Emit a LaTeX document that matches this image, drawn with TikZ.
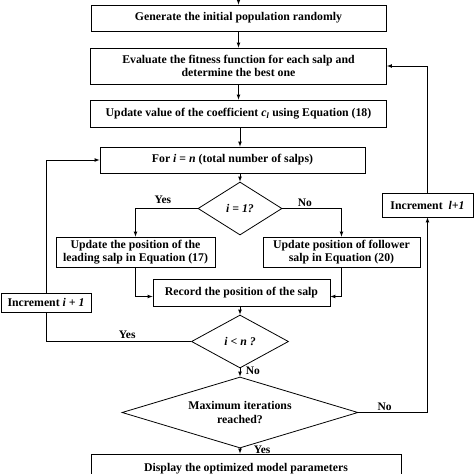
\documentclass[tikz,border=0pt]{standalone}
\usepackage{fontspec}
\setmainfont{Liberation Serif}
\usetikzlibrary{shapes.geometric}
\usetikzlibrary{arrows}
\tikzset{my_flow/.style={->,>=latex,line width=0.7pt,x=1pt,y=-1pt}}
\tikzset{my_box/.style={rectangle, draw, line width=0.8pt, align=center, inner sep=1pt, font=\fontsize{11.8}{13.5}\selectfont\bfseries}}
\tikzset{my_decision/.style={diamond, draw, line width=0.8pt, align=center, inner sep=0pt, font=\fontsize{11.8}{13.5}\selectfont\bfseries}}
\tikzset{my_label/.style={font=\fontsize{11.5}{13}\selectfont\bfseries, inner sep=1.5pt}}

\begin{document}
\begin{tikzpicture}[my_flow]
    \useasboundingbox (0,0) rectangle (474,474);
    %\draw[help lines,step=50] (0,0) grid (474,474);
    \coordinate (start) at (238.5,-2);
    \node[my_box, minimum width=295pt, minimum height=26pt] (init) at (238.5,18) {Generate the initial population randomly};
    \node[my_box, minimum width=296pt, minimum height=36pt] (fitness) at (238.5,66) {Evaluate the fitness function for each salp and\\determine the best one};
    \node[my_box, minimum width=296pt, minimum height=27pt] (coeff) at (238.5,113.5) {Update value of the coefficient \textit{c\textsubscript{l}} using Equation (18)};
    \node[my_box, minimum width=265pt, minimum height=26pt] (loop) at (232.5,160) {For \textit{i} = \textit{n} (total number of salps)};
    \node[my_decision, shape aspect=1.6, minimum width=84pt, minimum height=53pt] (first) at (240,208.5) {\textit{i = 1?}};
    \node[my_box, minimum width=159pt, minimum height=30pt] (leader) at (135.5,252) {Update the position of the\\leading salp in Equation (17)};
    \node[my_box, minimum width=157pt, minimum height=30pt] (follower) at (341.5,252) {Update position of follower\\salp in Equation (20)};
    \node[my_box, minimum width=177pt, minimum height=27pt] (record) at (241.5,292.5) {Record the position of the salp};
    \node[my_box, minimum width=90pt, minimum height=19pt] (inc_i) at (46,302.5) {Increment \textit{i + 1}};
    \node[my_decision, shape aspect=1.8, minimum width=97pt, minimum height=53pt] (last) at (240,341.5) {\textit{i {\textless} n ?}};
    \node[my_decision, shape aspect=3.3, minimum width=236pt, minimum height=71pt] (maxit) at (240,412.5) {Maximum iterations\\reached?};
    \node[my_box, minimum width=91pt, minimum height=24pt] (inc_l) at (427.5,205) {Increment \ \textit{l+1}};
    \node[my_box, minimum width=310pt, minimum height=30pt] (result) at (246,469) {Display the optimized model parameters};

    \draw (start) -- (init);
    \draw (init) -- (fitness);
    \draw (fitness) -- (coeff);
    \draw (coeff.south -| first.north) -- (loop.north -| first.north);
    \draw (loop.south -| first.north) -- (first.north);
    \draw (first.west) -| node[my_label, above, pos=0.28, yshift=3pt] {Yes} (leader.north);
    \draw (first.east) -| node[my_label, above, pos=0.19] {No} (follower.north);
    \draw (leader.south) |- ([yshift=-4pt]record.west);
    \draw (follower.south) |- ([yshift=-4pt]record.east);
    \draw (record.south -| last.north) -- (last.north);
    \draw[-] (last.west) -| node[my_label, above, pos=0.22, yshift=1pt] {Yes} (inc_i.south);
    \draw (inc_i.north) |- (loop.west);
    \draw (last.south) -- node[my_label, right, pos=0.3, xshift=4pt] {No} (maxit.north);
    \draw (maxit.east) -| node[my_label, above, pos=0.19] {No} (inc_l.south);
    \draw (inc_l.north) |- (fitness.east);
    \draw (maxit.south) -- node[my_label, right, pos=0.2, xshift=12pt] {Yes} (maxit.south |- result.north);
\end{tikzpicture}
\end{document}
